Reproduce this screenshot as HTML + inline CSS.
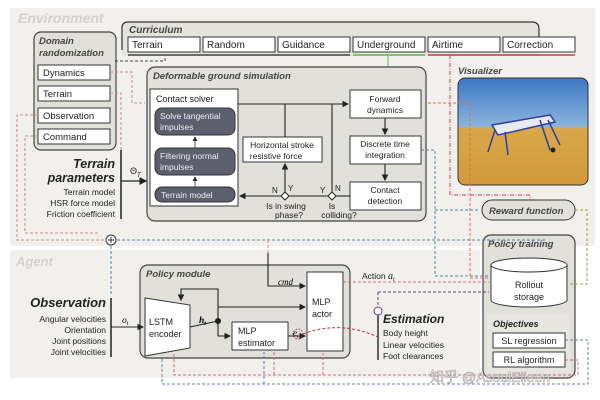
<!DOCTYPE html>
<html><head><meta charset="utf-8"><style>
html,body{margin:0;padding:0;background:#fff}
svg{display:block;font-family:"Liberation Sans","Noto Sans CJK SC",sans-serif}
.bi{font-weight:bold;font-style:italic}
</style></head><body>
<svg width="600" height="400" viewBox="0 0 600 400" xmlns="http://www.w3.org/2000/svg">
<defs>
<marker id="a" markerWidth="6" markerHeight="6" refX="5" refY="3" orient="auto"><path d="M0,0L6,3L0,6z" fill="#222"/></marker>
<linearGradient id="sky" x1="0" y1="0" x2="0" y2="1"><stop offset="0" stop-color="#3d78c4"/><stop offset="0.45" stop-color="#8ab4de"/><stop offset="0.47" stop-color="#d9a84a"/><stop offset="1" stop-color="#d29a3c"/></linearGradient>
</defs>
<!-- panels -->
<rect x="10" y="8" width="585" height="238" fill="#f1f0ed"/>
<rect x="10" y="250" width="470" height="128" fill="#f1f0ed"/>
<text x="18" y="23" class="bi" font-size="14" fill="#d4d2cd">Environment</text>
<text x="16" y="266" class="bi" font-size="13" fill="#d4d2cd">Agent</text>

<!-- Curriculum -->
<path d="M122,56 V28 Q122,22 128,22 H532 Q539,22 539,29 V56 Z" fill="#e5e3de"/>
<path d="M122,50 V28 Q122,22 128,22 H532 Q539,22 539,29 V37" fill="none" stroke="#333" stroke-width="1.2"/>
<text x="129" y="33" class="bi" font-size="10" fill="#444">Curriculum</text>
<g stroke="#333" stroke-width="1" fill="#fff">
<rect x="128" y="37" width="72" height="15"/>
<rect x="203" y="37" width="72" height="15"/>
<rect x="278" y="37" width="72" height="15"/>
<rect x="353" y="37" width="72" height="15"/>
<rect x="428" y="37" width="72" height="15"/>
<rect x="503" y="37" width="72" height="15"/>
</g>
<g font-size="10" fill="#222">
<text x="132" y="48">Terrain</text><text x="207" y="48">Random</text><text x="282" y="48">Guidance</text>
<text x="357" y="48">Underground</text><text x="432" y="48">Airtime</text><text x="507" y="48">Correction</text>
</g>
<line x1="128" y1="55" x2="350" y2="55" stroke="#444" stroke-width="1.5"/>
<line x1="353" y1="55" x2="425" y2="55" stroke="#5cb85c" stroke-width="1.5"/>
<line x1="428" y1="55" x2="575" y2="55" stroke="#c0404c" stroke-width="1.5"/>
<line x1="388" y1="56" x2="388" y2="67" stroke="#5cb85c" stroke-width="1"/>

<!-- Domain randomization -->
<rect x="34" y="32" width="82" height="118" rx="7" fill="#e2e0db" stroke="#444" stroke-width="1.2"/>
<text x="39" y="44" class="bi" font-size="9.5" fill="#444">Domain</text>
<text x="39" y="56" class="bi" font-size="9.5" fill="#444">randomization</text>
<g stroke="#333" fill="#fff"><rect x="38" y="65" width="72" height="15"/><rect x="38" y="86" width="72" height="15"/><rect x="38" y="108" width="72" height="15"/><rect x="38" y="129" width="72" height="15"/></g>
<g font-size="9.5" fill="#222"><text x="43" y="76">Dynamics</text><text x="43" y="97">Terrain</text><text x="43" y="119">Observation</text><text x="43" y="140">Command</text></g>

<!-- Terrain parameters -->
<g text-anchor="end" fill="#222">
<text x="115" y="168" class="bi" font-size="12.5">Terrain</text>
<text x="115" y="182" class="bi" font-size="12.5">parameters</text>
<text x="115" y="195" font-size="8.5">Terrain model</text>
<text x="115" y="206" font-size="8.5">HSR force model</text>
<text x="115" y="217" font-size="8.5">Friction coefficient</text>
</g>
<line x1="121" y1="150" x2="121" y2="219" stroke="#222" stroke-width="1.5"/>
<text x="130" y="174" font-size="9" fill="#222">Θ</text><text x="137" y="177" font-size="6" font-style="italic">T</text>
<line x1="121" y1="181" x2="146" y2="181" stroke="#222" stroke-width="1.3" marker-end="url(#a)"/>

<!-- Deformable ground sim -->
<rect x="147" y="67" width="279" height="154" rx="8" fill="#e2e0db" stroke="#444" stroke-width="1.2"/>
<text x="153" y="79" class="bi" font-size="9.5" fill="#444">Deformable ground simulation</text>
<rect x="150" y="89" width="88" height="117" fill="#fff" stroke="#333"/>
<text x="156" y="102" font-size="9" fill="#222">Contact solver</text>
<g fill="#5e5f6e" stroke="#333"><rect x="155" y="108" width="80" height="27" rx="7"/><rect x="155" y="148" width="80" height="27" rx="7"/><rect x="155" y="187" width="80" height="15" rx="7"/></g>
<g fill="#eee" font-size="8.5"><text x="160" y="119">Solve tangential</text><text x="160" y="130">impulses</text><text x="160" y="159">Filtering normal</text><text x="160" y="170">impulses</text><text x="161" y="198">Terrain model</text></g>
<g stroke="#333" stroke-width="0.8"><line x1="195" y1="187" x2="195" y2="177" marker-end="url(#a)"/><line x1="195" y1="148" x2="195" y2="137" marker-end="url(#a)"/></g>
<g stroke="#333" fill="#fff"><rect x="243" y="137" width="79" height="25"/><rect x="350" y="90" width="71" height="28"/><rect x="350" y="136" width="71" height="28"/><rect x="350" y="182" width="71" height="28"/></g>
<g font-size="8.5" fill="#222" text-anchor="middle">
<text x="282" y="148">Horizontal stroke</text><text x="276" y="159">resistive force</text>
<text x="385" y="102">Forward</text><text x="385" y="113">dynamics</text>
<text x="385" y="147">Discrete time</text><text x="385" y="158">integration</text>
<text x="385" y="193">Contact</text><text x="385" y="204">detection</text>
<text x="286" y="209">Is in swing</text><text x="289" y="218">phase?</text>
<text x="332" y="209">Is</text><text x="339" y="218">colliding?</text>
</g>
<g stroke="#222" stroke-width="1.1" fill="none">
<line x1="238" y1="104" x2="348" y2="104" marker-end="url(#a)"/>
<line x1="285" y1="104" x2="285" y2="137"/>
<line x1="332" y1="104" x2="332" y2="192"/>
<line x1="385" y1="118" x2="385" y2="134" marker-end="url(#a)"/>
<line x1="385" y1="164" x2="385" y2="180" marker-end="url(#a)"/>
<line x1="350" y1="196" x2="336" y2="196"/>
<line x1="328" y1="196" x2="289" y2="196"/>
<line x1="281" y1="196" x2="240" y2="196" marker-end="url(#a)"/>
<line x1="285" y1="192" x2="285" y2="164" marker-end="url(#a)"/>
</g>
<g fill="#fff" stroke="#222"><path d="M285,192 L289,196 L285,200 L281,196z"/><path d="M332,192 L336,196 L332,200 L328,196z"/></g>
<g font-size="8" fill="#222"><text x="272" y="193">N</text><text x="288" y="191">Y</text><text x="320" y="193">Y</text><text x="335" y="191">N</text></g>

<!-- Visualizer -->
<text x="458" y="74" class="bi" font-size="9.5" fill="#444">Visualizer</text>
<rect x="458" y="78" width="130" height="107" rx="7" fill="url(#sky)" stroke="#333"/>
<g fill="#e8eaf4" stroke="#3040a0" stroke-width="1.5"><path d="M492,125 L550,115 L555,122 L498,135z"/><path d="M495,130 L488,152 M505,132 L508,155 M540,120 L550,150 M548,120 L560,145" fill="none"/></g>
<circle cx="553" cy="150" r="2.5" fill="#222"/>

<!-- Reward -->
<rect x="482" y="200" width="93" height="20" rx="10" fill="#e2e0db" stroke="#333"/>
<text x="489" y="214" class="bi" font-size="9.5" fill="#444">Reward function</text>

<!-- Policy module -->
<rect x="140" y="265" width="210" height="93" rx="8" fill="#e2e0db" stroke="#444" stroke-width="1.2"/>
<text x="146" y="277" class="bi" font-size="9.5" fill="#444">Policy module</text>
<path d="M145,298 L190,305 L190,348 L145,356z" fill="#fff" stroke="#333"/>
<text x="149" y="325" font-size="9" fill="#222">LSTM</text><text x="149" y="337" font-size="9" fill="#222">encoder</text>
<rect x="232" y="322" width="56" height="28" fill="#fff" stroke="#333"/>
<text x="238" y="334" font-size="9" fill="#222">MLP</text><text x="238" y="346" font-size="9" fill="#222">estimator</text>
<rect x="307" y="272" width="36" height="79" fill="#fff" stroke="#333"/>
<text x="312" y="305" font-size="9" fill="#222">MLP</text><text x="312" y="317" font-size="9" fill="#222">actor</text>
<g stroke="#222" stroke-width="1.1" fill="none">
<line x1="111" y1="327" x2="143" y2="327" marker-end="url(#a)"/>
<line x1="190" y1="327" x2="218" y2="321"/>
<path d="M218,321 V289 H181 V300" marker-end="url(#a)"/>
<line x1="218" y1="307" x2="305" y2="307" marker-end="url(#a)"/>
<path d="M218,321 V336 H230" marker-end="url(#a)"/>
<line x1="288" y1="336" x2="305" y2="336" marker-end="url(#a)"/>
<path d="M268,253 V286 H305" marker-end="url(#a)"/>
</g>
<circle cx="218" cy="321" r="3" fill="#222"/>
<text x="199" y="323" font-size="9.5" font-style="italic" font-family="Liberation Serif" font-weight="bold">h<tspan font-size="6" dy="2">t</tspan></text>
<text x="122" y="323" font-size="9.5" font-style="italic" font-family="Liberation Serif">o<tspan font-size="6" dy="2">t</tspan></text>
<text x="278" y="285" font-size="9" font-style="italic" font-family="Liberation Serif">cmd</text>
<circle cx="298" cy="334" r="5" fill="none" stroke="#b03050" stroke-dasharray="1.5,1.5"/>
<text x="293" y="336" font-size="9" font-style="italic" font-family="Liberation Serif">e<tspan font-size="5" dy="2">t</tspan></text>

<!-- Observation -->
<g text-anchor="end" fill="#222">
<text x="106" y="307" class="bi" font-size="13">Observation</text>
<text x="106" y="322" font-size="8.5">Angular velocities</text>
<text x="106" y="333" font-size="8.5">Orientation</text>
<text x="106" y="344" font-size="8.5">Joint positions</text>
<text x="106" y="355" font-size="8.5">Joint velocities</text>
</g>
<line x1="111" y1="298" x2="111" y2="357" stroke="#222" stroke-width="1.5"/>

<!-- Estimation -->
<line x1="378" y1="314" x2="378" y2="360" stroke="#333" stroke-width="1.5"/>
<circle cx="378" cy="311" r="4" fill="#fff" stroke="#6a3d7a"/>
<text x="383" y="323" class="bi" font-size="12" fill="#222">Estimation</text>
<g font-size="8.5" fill="#222"><text x="383" y="336">Body height</text><text x="383" y="348">Linear velocities</text><text x="383" y="359">Foot clearances</text></g>
<text x="362" y="279" font-size="8.5" fill="#222">Action <tspan font-style="italic" font-family="Liberation Serif" font-size="10">a<tspan font-size="6" dy="2">t</tspan></tspan></text>

<!-- Policy training -->
<rect x="483" y="235" width="92" height="143" rx="8" fill="#e2e0db" stroke="#444" stroke-width="1.2"/>
<text x="488" y="247" class="bi" font-size="9.5" fill="#444">Policy training</text>
<path d="M491,265 V300 A38,7 0 0 0 567,300 V265" fill="#fff" stroke="#333"/>
<ellipse cx="529" cy="265" rx="38" ry="7" fill="#fff" stroke="#333"/>
<text x="529" y="288" font-size="9" text-anchor="middle" fill="#222">Rollout</text>
<text x="529" y="300" font-size="9" text-anchor="middle" fill="#222">storage</text>
<rect x="487" y="313" width="83" height="60" fill="#e8e6e1"/>
<text x="493" y="327" class="bi" font-size="9" fill="#222">Objectives</text>
<rect x="493" y="333" width="72" height="15" fill="#fff" stroke="#333"/>
<rect x="493" y="352" width="72" height="15" fill="#fff" stroke="#333"/>
<text x="529" y="344" font-size="9" text-anchor="middle" fill="#222">SL regression</text>
<text x="529" y="363" font-size="9" text-anchor="middle" fill="#222">RL algorithm</text>

<!-- dashed connectors -->
<g fill="none" stroke-width="1" stroke-dasharray="3,2">
<path d="M115,61 H165 V57" stroke="#444"/>
<path d="M110,72 H132 V103 H145" stroke="#c89090"/>
<path d="M110,93 H121 V150" stroke="#c89090"/>
<path d="M38,115 H17 V240 H105" stroke="#c89090"/>
<path d="M38,136 H25 V233 H100" stroke="#c89090"/>
<path d="M117,240 H545" stroke="#5a7fa8"/>
<line x1="111" y1="246" x2="111" y2="296" stroke="#5a7fa8"/>
<path d="M268,240 V253" stroke="#c89090"/>
<path d="M421,150 H435 V276 H489" stroke="#5a7fa8"/>
<path d="M435,210 H480" stroke="#5a7fa8"/>
<path d="M450,55 V195 H530 V200" stroke="#c0404c" stroke-dasharray="4,1.5,1,1.5"/>
<path d="M470,103 V278 H489" stroke="#e07050"/>
<path d="M428,103 H470" stroke="#e07050"/>
<path d="M575,210 H587 V284 H569" stroke="#9aa040"/>
<path d="M343,282 H489" stroke="#d07080"/>
<path d="M378,292 H489" stroke="#6a3d7a"/>
<line x1="378" y1="292" x2="378" y2="307" stroke="#6a3d7a"/>
<path d="M303,334 Q340,320 378,337" stroke="#b03050"/>
<path d="M565,340 H588 V384 H162 V357" stroke="#5a7fa8"/>
<path d="M264,384 V352" stroke="#5a7fa8"/>
<path d="M565,360 H578 V375 H174 V352" stroke="#d07080"/>
<path d="M274,375 V352 M323,375 V353" stroke="#d07080"/>
</g>
<circle cx="111" cy="240" r="5" fill="#fff" stroke="#333"/>
<path d="M108,240 H114 M111,237 V243" stroke="#333"/>
<text x="430" y="382" font-size="14" fill="#fff" stroke="#999" stroke-width="0.6" opacity="0.9">知乎 @AsoulEileen</text>
</svg>
</body></html>
